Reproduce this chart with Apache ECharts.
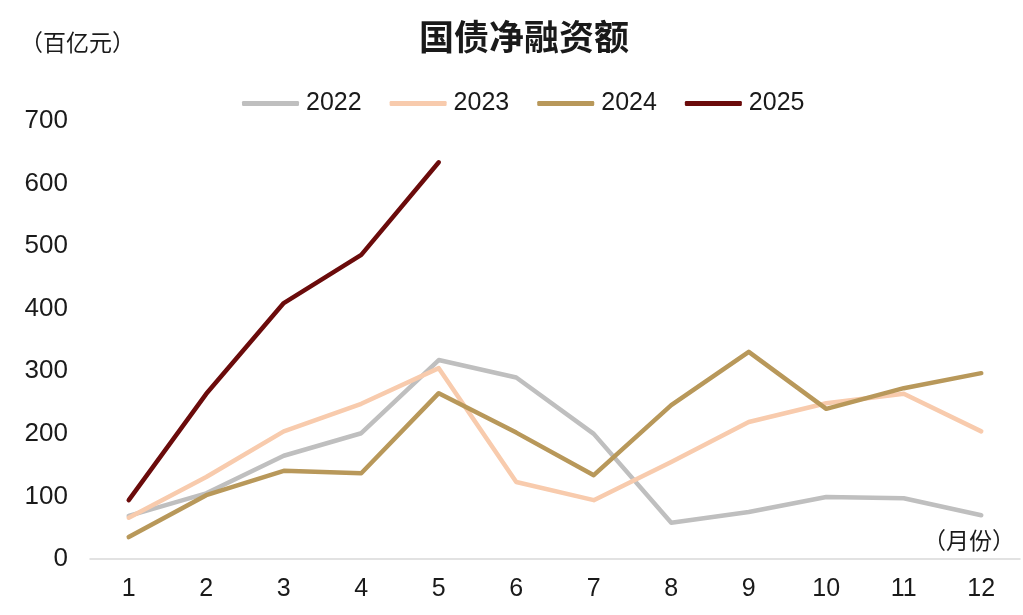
<!DOCTYPE html>
<html>
<head>
<meta charset="utf-8">
<script src="https://cdn.jsdelivr.net/npm/echarts@6/dist/echarts.min.js"></script>
<style>
  html, body { margin: 0; padding: 0; background: #fff; }
  #demo { width: 1023px; height: 615px; }
</style>
</head>
<body>
<div id="demo"></div>
<script>
// 月份
var months = ['1', '2', '3', '4', '5', '6', '7', '8', '9', '10', '11', '12'];
// 各年国债净融资额（百亿元），从图上读的
var y2022 = [69, 105, 165, 201, 318, 290, 200, 58, 75, 99, 97, 70];
var y2023 = [66, 131, 204, 248, 305, 123, 94, 155, 219, 249, 264, 204];
var y2024 = [35, 102, 141, 137, 265, 202, 134, 246, 331, 240, 273, 297];
var y2025 = [94, 264, 409, 486, 634];
var yearNames = ['2022', '2023', '2024', '2025'];
var lineColors = ['#bfbfbf', '#f8cbad', '#b8985a', '#6b0b0b'];

var font = '"Liberation Sans", Arial, "Noto Sans CJK SC", sans-serif';
var cjk = '"Noto Sans CJK SC", sans-serif';

var chartDom = document.getElementById('demo');
var myChart = echarts.init(chartDom);

var allData = [y2022, y2023, y2024, y2025];
var series = [];
for (var i = 0; i < yearNames.length; i++) {
    series.push({
        name: yearNames[i],
        type: 'line',
        data: allData[i],
        symbol: 'none',
        lineStyle: { width: 4.5, color: lineColors[i], cap: 'round', join: 'round' },
        itemStyle: { color: lineColors[i] },
        z: 2 + i
    });
}

var option = {
    animation: false,
    title: {
        text: '国债净融资额',
        left: 414,
        top: 14,
        textStyle: { fontFamily: cjk, fontSize: 35, fontWeight: 'bold', color: '#1a1a1a' }
    },
    graphic: [
        {
            type: 'text', left: 20, top: 31,
            style: { text: '（百亿元）', font: '23px ' + cjk, fill: '#1a1a1a' }
        },
        {
            type: 'text', right: 8, top: 529,
            style: { text: '（月份）', font: '23px ' + cjk, fill: '#1a1a1a' }
        }
    ],
    legend: {
        data: yearNames,
        top: 86,
        left: 237,
        icon: 'roundRect',
        itemWidth: 57,
        itemHeight: 5,
        itemGap: 28,
        textStyle: { fontFamily: font, fontSize: 25, color: '#1a1a1a', padding: [0, 0, 0, 2] }
    },
    grid: { left: 90, right: 3, top: 121, bottom: 56 },
    xAxis: {
        type: 'category',
        data: months,
        boundaryGap: true,
        axisLine: { lineStyle: { color: '#d9d9d9', width: 1.5 } },
        axisTick: { show: false },
        axisLabel: { fontFamily: font, fontSize: 25, color: '#1a1a1a', margin: 18 }
    },
    yAxis: {
        type: 'value',
        min: 0,
        max: 700,
        interval: 100,
        axisLine: { show: false },
        axisTick: { show: false },
        splitLine: { show: false },
        axisLabel: { fontFamily: font, fontSize: 26, color: '#1a1a1a', margin: 22 }
    },
    series: series
};
option && myChart.setOption(option);
</script>
</body>
</html>
